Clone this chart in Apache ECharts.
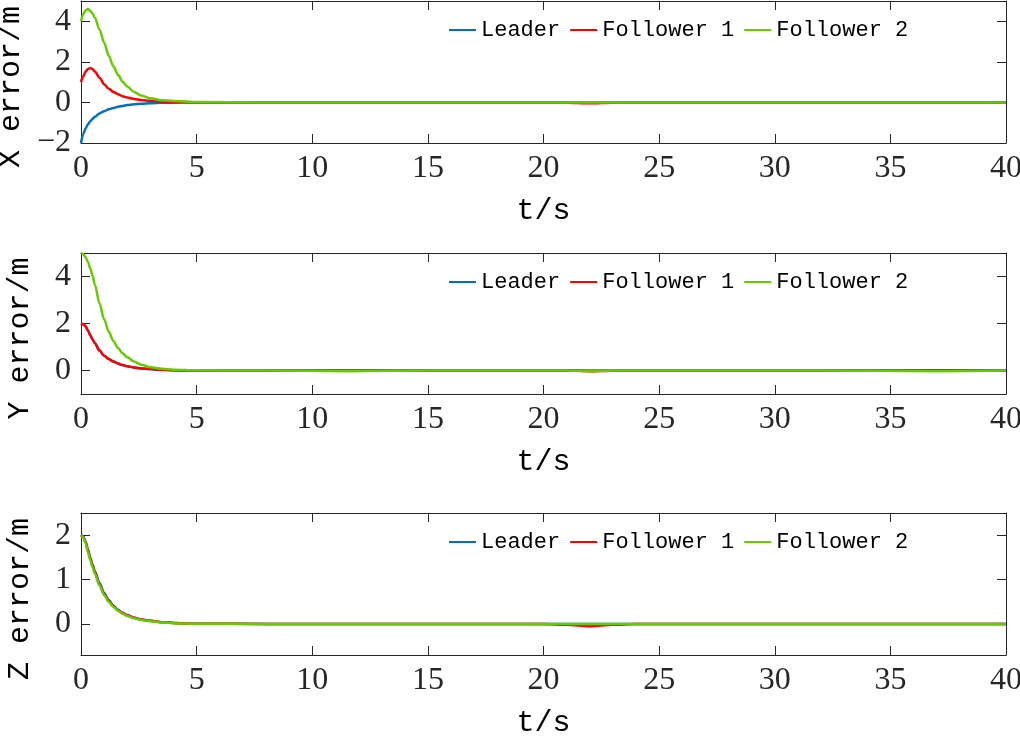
<!DOCTYPE html>
<html lang="en">
<head>
    <meta charset="UTF-8">
    <title>Position error</title>
    <script src="https://cdn.jsdelivr.net/npm/echarts@6/dist/echarts.min.js"></script>
    <style>
        html, body { margin: 0; padding: 0; background: #fff; }
        #chart { width: 1020px; height: 739px; }
    </style>
</head>
<body>
    <div id="chart"></div>
    <script>
        // time samples (s), shared by all curves
        const t = [0, 0.1, 0.2, 0.3, 0.4, 0.5, 0.6, 0.8, 1.0, 1.2, 1.4, 1.6, 1.8, 2.0, 2.3, 2.6, 3.0, 3.5, 4.0, 5.0,
                   8, 11.5, 15, 20, 21, 22, 23, 24, 28, 32, 37, 40];

        // X error
        const xLeader = [-2.0, -1.55, -1.28, -1.08, -0.93, -0.81, -0.71, -0.55, -0.43, -0.34, -0.27, -0.21, -0.17, -0.13, -0.09, -0.06, -0.04, -0.02, -0.01, 0,
                         0, 0, 0, 0, 0, 0, 0, 0, 0, 0, 0, 0];
        const xF1 = [1.0, 1.3, 1.52, 1.65, 1.7, 1.65, 1.52, 1.22, 0.9, 0.68, 0.52, 0.4, 0.31, 0.24, 0.17, 0.12, 0.08, 0.05, 0.03, 0.01,
                     0, 0, 0, 0, -0.01, -0.04, -0.01, 0, 0, 0, 0, 0];
        const xF2 = [4.0, 4.35, 4.55, 4.6, 4.52, 4.38, 4.18, 3.6, 2.95, 2.3, 1.78, 1.36, 1.02, 0.78, 0.52, 0.34, 0.2, 0.11, 0.07, 0.02,
                     0, 0, 0, 0, 0, 0, 0, 0, 0, 0, 0, 0];

        // Y error
        const yLeader = [2.0, 1.97, 1.88, 1.7, 1.5, 1.32, 1.16, 0.85, 0.63, 0.49, 0.38, 0.3, 0.23, 0.18, 0.13, 0.09, 0.06, 0.03, 0.01, 0,
                         0, 0, 0, 0, 0, 0, 0, 0, 0, 0, 0, 0];
        const yF1 = [2.0, 1.97, 1.88, 1.7, 1.5, 1.32, 1.16, 0.85, 0.63, 0.49, 0.38, 0.3, 0.23, 0.18, 0.13, 0.09, 0.06, 0.03, 0.01, 0,
                     0, -0.01, 0, 0, 0, -0.03, -0.01, 0, 0, 0, 0, 0];
        const yF2 = [5.0, 4.95, 4.82, 4.62, 4.35, 4.03, 3.65, 2.85, 2.18, 1.65, 1.26, 0.96, 0.73, 0.56, 0.38, 0.25, 0.14, 0.07, 0.035, 0.01,
                     0, -0.03, 0, 0, 0, -0.02, 0, 0, 0, 0, -0.03, 0];

        // Z error
        const zLeader = [2.0, 1.97, 1.86, 1.68, 1.5, 1.34, 1.19, 0.92, 0.7, 0.54, 0.41, 0.32, 0.25, 0.2, 0.14, 0.1, 0.07, 0.04, 0.02, 0.005,
                         0, 0, 0, 0, 0, 0, 0, 0, 0, 0, 0, 0];
        const zF1 = [2.0, 1.96, 1.84, 1.65, 1.47, 1.31, 1.16, 0.89, 0.67, 0.52, 0.4, 0.31, 0.24, 0.19, 0.14, 0.1, 0.07, 0.04, 0.02, 0.005,
                     0, 0, 0, 0, -0.02, -0.05, -0.02, 0, 0, 0, 0, 0];
        const zF2 = [2.0, 1.95, 1.82, 1.62, 1.44, 1.28, 1.13, 0.87, 0.65, 0.5, 0.38, 0.3, 0.23, 0.18, 0.13, 0.09, 0.06, 0.035, 0.015, 0.005,
                     0, 0, 0, 0, 0, 0, 0, 0, 0, 0, 0, 0];

        const names = ['Leader', 'Follower 1', 'Follower 2'];
        const colors = ['#0072BD', '#FF0000', '#66CC00'];
        const yNames = ['X error/m', 'Y error/m', 'Z error/m'];
        const yMin = [-2, -1, -0.7];
        const yMax = [5, 5, 2.5];
        const yTicks = [[-2, 0, 2, 4], [0, 2, 4], [0, 1, 2]];
        const panels = [[xLeader, xF1, xF2], [yLeader, yF1, yF2], [zLeader, zF1, zF2]];

        const grids = [
            { left: 81, right: 14, top: 1, height: 142, outerBoundsMode: 'none' },
            { left: 81, right: 14, top: 253, height: 141, outerBoundsMode: 'none' },
            { left: 81, right: 14, top: 513, height: 142, outerBoundsMode: 'none' }
        ];

        const axisCol = '#262626';
        const serif = 'Liberation Serif';
        const mono = 'Liberation Mono';

        let xAxes = [], yAxes = [], series = [], legends = [];
        grids.forEach(function (g, i) {
            // bottom axis with labels, top axis only for the box ticks
            xAxes.push({
                gridIndex: i, type: 'value', min: 0, max: 40, interval: 5, position: 'bottom',
                name: 't/s', nameLocation: 'middle', nameGap: 53,
                nameTextStyle: { fontFamily: mono, fontSize: 30, color: '#000' },
                axisLine: { onZero: false, lineStyle: { color: axisCol } },
                axisTick: { inside: true, length: 9, lineStyle: { color: axisCol } },
                axisLabel: { fontFamily: serif, fontSize: 32, color: axisCol, margin: 10 },
                splitLine: { show: false }
            });
            xAxes.push({
                gridIndex: i, type: 'value', position: 'top', min: 0, max: 40, interval: 5,
                axisLine: { onZero: false, lineStyle: { color: axisCol } },
                axisTick: { inside: true, length: 9, lineStyle: { color: axisCol } },
                axisLabel: { show: false },
                splitLine: { show: false }
            });
            yAxes.push({
                gridIndex: i, type: 'value', position: 'left', min: yMin[i], max: yMax[i],
                name: yNames[i], nameLocation: 'middle', nameGap: 46, nameRotate: 90,
                nameTextStyle: { fontFamily: mono, fontSize: 30, color: '#000', padding: [0, 30, 0, 0] },
                axisLine: { show: true, onZero: false, lineStyle: { color: axisCol } },
                axisTick: { show: true, inside: true, length: 9, customValues: yTicks[i], lineStyle: { color: axisCol } },
                axisLabel: {
                    fontFamily: serif, fontSize: 32, color: axisCol, margin: 10, customValues: yTicks[i],
                    formatter: function (v) { return String(v).replace('-', '\u2212'); }
                },
                splitLine: { show: false }
            });
            yAxes.push({
                gridIndex: i, type: 'value', position: 'right', min: yMin[i], max: yMax[i],
                axisLine: { show: true, onZero: false, lineStyle: { color: axisCol } },
                axisTick: { show: true, inside: true, length: 9, customValues: yTicks[i], lineStyle: { color: axisCol } },
                axisLabel: { show: false },
                splitLine: { show: false }
            });

            panels[i].forEach(function (vals, k) {
                series.push({
                    name: names[k], type: 'line',
                    xAxisIndex: i * 2, yAxisIndex: i * 2,
                    data: t.map(function (tt, j) { return [tt, vals[j]]; }),
                    showSymbol: false, smooth: 0.3, smoothMonotone: 'x',
                    lineStyle: { width: 2.5, color: colors[k] },
                    itemStyle: { color: colors[k] },
                    animation: false
                });
            });

            legends.push({
                data: names, left: 444, top: g.top + 13,
                icon: 'rect', itemWidth: 27, itemHeight: 2, itemGap: 10,
                textStyle: { fontFamily: mono, fontSize: 22, color: '#000' },
                selectedMode: false
            });
        });

        let myChart = echarts.init(document.getElementById('chart'));
        myChart.setOption({
            animation: false,
            backgroundColor: '#fff',
            grid: grids,
            xAxis: xAxes,
            yAxis: yAxes,
            legend: legends,
            series: series
        });
    </script>
</body>
</html>
